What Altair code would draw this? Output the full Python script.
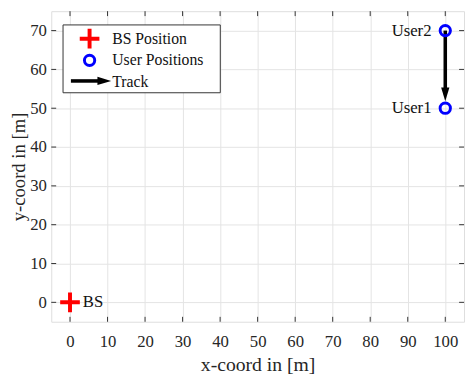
import altair as alt
import pandas as pd

# ---- data ----
bs_x = [0]
bs_y = [0]
bs_label = ["BS"]
user_names = ["User1", "User2"]
user_x = [100, 100]
user_y = [50, 70]
track_x_start = [100]
track_y_start = [70]
track_x_end = [100]
track_y_end = [50]
x_ticks = [0, 10, 20, 30, 40, 50, 60, 70, 80, 90, 100]
y_ticks = [0, 10, 20, 30, 40, 50, 60, 70]
legend_labels = ["BS Position", "User Positions", "Track"]

W, H = 420, 316
FONT = "Liberation Serif"
AX = "#333333"

bs_df = pd.DataFrame({"x": bs_x, "y": bs_y, "label": bs_label})
user_df = pd.DataFrame({"x": user_x, "y": user_y, "name": user_names})
track_df = pd.DataFrame({"x": track_x_start, "y": track_y_start,
                         "x2": track_x_end, "y2": track_y_end})
xt_df = pd.DataFrame({"v": x_ticks})
yt_df = pd.DataFrame({"v": y_ticks})
one = pd.DataFrame({"k": [0]})

xs = alt.Scale(domain=[-5, 105], nice=False, zero=False)
ys = alt.Scale(domain=[-5, 75], nice=False, zero=False)

x_axis = alt.Axis(values=x_ticks, title="x-coord in [m]", tickSize=0, domain=False,
                  grid=True, gridColor="#e3e3e3", labelPadding=12, titlePadding=6,
                  labelFontSize=17, titleFontSize=20, labelFont=FONT, titleFont=FONT,
                  labelColor="#262626", titleColor="#262626", titleFontWeight="normal")
y_axis = alt.Axis(values=y_ticks, title="y-coord in [m]", tickSize=0, domain=False,
                  grid=True, gridColor="#e3e3e3", labelPadding=5, titlePadding=1,
                  labelFontSize=17, titleFontSize=19, labelFont=FONT, titleFont=FONT,
                  labelColor="#262626", titleColor="#262626", titleFontWeight="normal")

PLUS = "M-1,0L1,0M0,-1L0,1"
HEAD_DOWN = "M-0.6,-1L0.6,-1L0,1Z"
HEAD_RIGHT = "M-1,-0.6L-1,0.6L1,0Z"

# BS marker (defines axes)
bs_pt = alt.Chart(bs_df).mark_point(shape=PLUS, size=400, strokeWidth=4,
                                    color="#ff0000", filled=False, opacity=1).encode(
    x=alt.X("x:Q", scale=xs, axis=x_axis),
    y=alt.Y("y:Q", scale=ys, axis=y_axis),
)
bs_txt = alt.Chart(bs_df).mark_text(align="left", baseline="middle", dx=13,
                                    font=FONT, fontSize=17, color="#111").encode(
    x="x:Q", y="y:Q", text="label:N")

# Track arrow
track_rule = alt.Chart(track_df).mark_rule(strokeWidth=3.6, color="black", y2Offset=-18).encode(
    x="x:Q", y="y:Q", x2="x2:Q", y2="y2:Q")
track_head = alt.Chart(track_df).mark_point(shape=HEAD_DOWN, size=196, filled=True,
                                            color="black", opacity=1, yOffset=-14).encode(
    x="x2:Q", y="y2:Q")

user_pt = alt.Chart(user_df).mark_point(shape="circle", size=110, strokeWidth=3,
                                        color="#0000ff", filled=False, opacity=1).encode(
    x="x:Q", y="y:Q")
user_txt = alt.Chart(user_df).mark_text(align="right", baseline="middle", dx=-14,
                                        font=FONT, fontSize=17, color="#111").encode(
    x="x:Q", y="y:Q", text="name:N")

# inward ticks (MATLAB style)
tk = dict(color=AX, strokeWidth=1)
xb = alt.Chart(xt_df).mark_rule(**tk).encode(x="v:Q", y=alt.value(H), y2=alt.value(H - 5))
xtp = alt.Chart(xt_df).mark_rule(**tk).encode(x="v:Q", y=alt.value(0), y2=alt.value(5))
yl = alt.Chart(yt_df).mark_rule(**tk).encode(y="v:Q", x=alt.value(0), x2=alt.value(5))
yr = alt.Chart(yt_df).mark_rule(**tk).encode(y="v:Q", x=alt.value(W), x2=alt.value(W - 5))

# legend box (drawn inside the plot)
LX, LY = 12, 14
box = alt.Chart(one).mark_rect(fill="white", stroke=AX, strokeWidth=1).encode(
    x=alt.value(LX), x2=alt.value(LX + 160), y=alt.value(LY), y2=alt.value(LY + 69))
leg_plus = alt.Chart(one).mark_point(shape=PLUS, size=400, strokeWidth=4, color="#ff0000",
                                     filled=False, opacity=1).encode(
    x=alt.value(LX + 27), y=alt.value(LY + 14))
leg_circ = alt.Chart(one).mark_point(shape="circle", size=110, strokeWidth=3, color="#0000ff",
                                     filled=False, opacity=1).encode(
    x=alt.value(LX + 27), y=alt.value(LY + 36))
leg_line = alt.Chart(one).mark_rule(strokeWidth=3.6, color="black").encode(
    x=alt.value(LX + 8), x2=alt.value(LX + 36), y=alt.value(LY + 57))
leg_head = alt.Chart(one).mark_point(shape=HEAD_RIGHT, size=196, filled=True, color="black",
                                     opacity=1).encode(
    x=alt.value(LX + 42), y=alt.value(LY + 57))
leg_txts = [
    alt.Chart(one).mark_text(align="left", baseline="middle", font=FONT, fontSize=16,
                             color="#111").encode(
        x=alt.value(LX + 50), y=alt.value(LY + yy), text=alt.value(lab))
    for lab, yy in zip(legend_labels, [14, 36, 58])
]

chart = alt.layer(
    bs_pt, xb, xtp, yl, yr, track_rule, track_head, user_pt, user_txt, bs_txt,
    box, leg_plus, leg_circ, leg_line, leg_head, *leg_txts
).properties(
    width=W, height=H,
    autosize=alt.AutoSizeParams(type="none"),
    padding={"left": 44, "top": 0, "right": 2, "bottom": 54},
).configure_view(stroke=AX, strokeWidth=1.2).configure(background="white")

chart.save("out.html", embed_options={"renderer": "svg", "actions": False})
